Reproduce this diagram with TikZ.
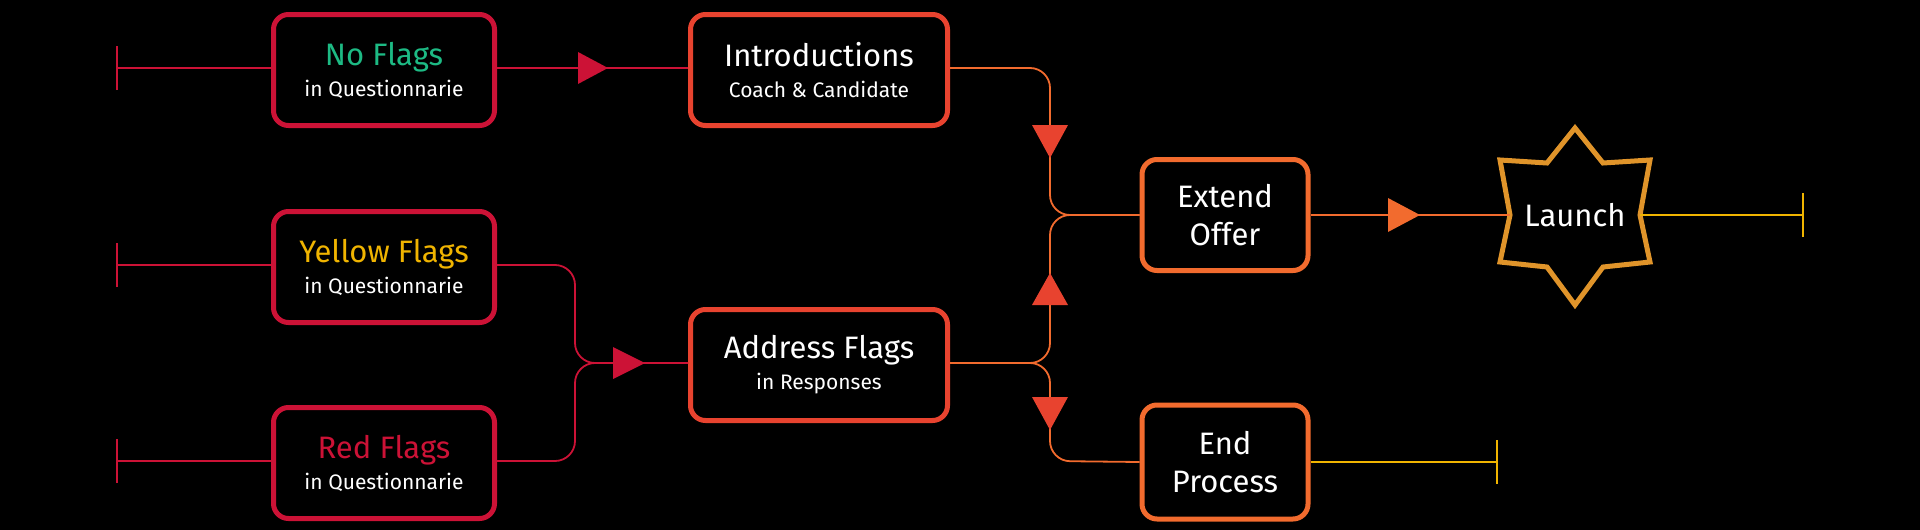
\documentclass[tikz,border=0pt]{standalone}
\usepackage{fontspec}
\setmainfont{Fira Sans}
\begin{document}
\begin{tikzpicture}[x=1pt,y=-1pt,
  box/.style={draw, line width=5pt, rounded corners=15pt, fill=black, minimum width=221pt, minimum height=111pt, align=center, text=white, inner sep=0pt, font=\fontsize{21}{31}\selectfont},
  box2/.style={box, font=\fontsize{31}{38}\selectfont},
  con/.style={line width=1.8pt, rounded corners=20pt}]
\definecolor{crim}{HTML}{CC1236}
\definecolor{ored}{HTML}{E8432F}
\definecolor{oran}{HTML}{F26B2E}
\definecolor{gold}{HTML}{E0942A}
\definecolor{yel}{HTML}{F0B400}
\definecolor{grn}{HTML}{1DBA84}
\fill[black] (0,0) rectangle (1920,530);
\useasboundingbox (0,0) rectangle (1920,530);

\node[box,draw=crim] (nof) at (384,70) {{\fontsize{31}{34}\selectfont\color{grn}No Flags}\\in Questionnarie};
\node[box,draw=crim] (yf) at (384,267) {{\fontsize{31}{34}\selectfont\color{yel}Yellow Flags}\\in Questionnarie};
\node[box,draw=crim] (rf) at (384,463) {{\fontsize{31}{34}\selectfont\color{crim}Red Flags}\\in Questionnarie};
\node[box,draw=ored,minimum width=257pt] (intro) at (819,70) {{\fontsize{31}{34}\selectfont Introductions}\\Coach \&\ Candidate};
\node[box,draw=ored,minimum width=257pt] (addr) at (819,365) {{\fontsize{31}{34}\selectfont Address Flags}\\in Responses};
\node[box2,draw=oran,minimum width=166pt] (ext) at (1225,215) {Extend\\Offer};
\node[box2,draw=oran,minimum width=166pt,minimum height=114pt] (endp) at (1225,462) {End\\Process};

\coordinate (lc) at (1575,215);
\draw[gold, line width=5pt, fill=black, line join=miter]
  (1575,128) -- (1603,163) -- (1650,160) -- (1640,215) -- (1650,262) -- (1603,267)
  -- (1575,305) -- (1547,267) -- (1500,262) -- (1510,215) -- (1500,160) -- (1547,163) -- cycle;
\node[text=white, inner sep=0pt, font=\fontsize{31}{34}\selectfont] (launch) at (lc) {Launch};

\coordinate (s1) at (117,68); \coordinate (s2) at (117,265); \coordinate (s3) at (117,461);
\foreach \s in {s1,s2,s3}{\draw[crim,line width=1.8pt] ([yshift=-22pt]\s) -- ([yshift=22pt]\s);}
\draw[crim,line width=1.8pt] (s1) -- (s1 -| nof.west);
\draw[crim,line width=1.8pt] (s2) -- (s2 -| yf.west);
\draw[crim,line width=1.8pt] (s3) -- (s3 -| rf.west);

\draw[crim,line width=1.8pt] (nof.east |- s1) -- (s1 -| intro.west);
\fill[crim] (578,52) -- (608,68) -- (578,84) -- cycle;

\coordinate (j1) at (575,363);
\draw[con,crim] (yf.east |- s2) -| (j1) -- (j1 -| addr.west);
\draw[con,crim] (rf.east |- s3) -| (j1) -- (j1 -| addr.west);
\fill[crim] (613,347) -- (645,363) -- (613,379) -- cycle;

\coordinate (j2) at (1050,215);
\draw[con,oran] (intro.east |- s1) -| (j2) -- (ext.west);
\draw[con,oran] (addr.east |- j1) -| (j2) -- (ext.west);
\draw[con,oran] (addr.east |- j1) -| (1050,461) -- (endp.west);
\fill[ored] (1032,125) -- (1068,125) -- (1050,158) -- cycle;
\fill[ored] (1032,305) -- (1068,305) -- (1050,273) -- cycle;
\fill[ored] (1032,397) -- (1068,397) -- (1050,430) -- cycle;

\draw[oran,line width=1.8pt] (ext.east) -- (1510,215);
\fill[oran] (1388,198) -- (1420,215) -- (1388,232) -- cycle;

\coordinate (e1) at (1803,215);
\coordinate (e2) at (1497,462);
\draw[yel,line width=1.8pt] (1640,215) -- (e1);
\draw[yel,line width=1.8pt] ([yshift=-22pt]e1) -- ([yshift=22pt]e1);
\draw[yel,line width=1.8pt] (endp.east) -- (e2);
\draw[yel,line width=1.8pt] ([yshift=-22pt]e2) -- ([yshift=22pt]e2);
\end{tikzpicture}
\end{document}
